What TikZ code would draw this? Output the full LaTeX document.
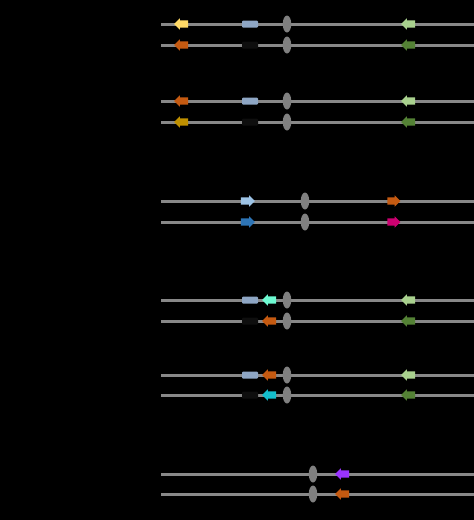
\documentclass[tikz,border=0pt]{standalone}
\usetikzlibrary{shapes.geometric,shapes.arrows,positioning}

\definecolor{trackgray}{RGB}{136,136,136}
\definecolor{sitegray}{RGB}{128,128,128}
\definecolor{tagblue}{RGB}{142,166,196}
\definecolor{tagdark}{RGB}{14,14,14}
\definecolor{ltyellow}{RGB}{255,217,102}
\definecolor{dkorange}{RGB}{197,90,17}
\definecolor{dkyellow}{RGB}{191,144,0}
\definecolor{ltgreen}{RGB}{169,209,142}
\definecolor{dkgreen}{RGB}{84,130,53}
\definecolor{ltblue}{RGB}{157,195,230}
\definecolor{dkblue}{RGB}{46,117,182}
\definecolor{magenta}{RGB}{204,0,112}
\definecolor{aqua}{RGB}{110,250,210}
\definecolor{cyanish}{RGB}{20,190,205}
\definecolor{violet}{RGB}{153,51,255}

\begin{document}
\begin{tikzpicture}[x=1pt,y=-1pt,
	track/.style = {draw=trackgray, line width=3pt},
	site/.style  = {ellipse, fill=sitegray, inner sep=0pt, minimum width=8.5pt, minimum height=17pt},
	tag/.style   = {rectangle, rounded corners=1pt, inner sep=0pt, minimum width=16pt, minimum height=7pt},
	gene/.style  = {single arrow, inner xsep=0pt, inner ysep=3.5pt, single arrow head extend=2pt, minimum height=14pt},
	rev/.style   = {gene, shape border rotate=180},
	fwd/.style   = {gene}]

	% background and page size
	\fill[black] (0,0) rectangle (474,520);
	\useasboundingbox (0,0) rectangle (474,520);

	% the twelve tracks
	\foreach \y/\n in {24/1,45/2,101/3,122/4,201/5,222/6,300/7,321/8,375/9,395/10,474/11,494/12}
	\draw[track] (161,\y) coordinate (s\n) -- (474,\y) coordinate (e\n);

	% group 1, tracks 1 and 2
	\node[rev, fill=ltyellow] (g1a) at (183,24) {};
	\node[tag, fill=tagblue] (t1) at (250,24) {};
	\node[site] (c1) at (287,24) {};
	\node[rev, fill=ltgreen] (g1b) at (410,24) {};

	\node[rev, fill=dkorange] (g2a) at (183,45) {};
	\node[tag, fill=tagdark] (t2) at (250,45) {};
	\node[site] (c2) at (287,45) {};
	\node[rev, fill=dkgreen] (g2b) at (410,45) {};

	% group 2, tracks 3 and 4
	\node[rev, fill=dkorange] (g3a) at (183,101) {};
	\node[tag, fill=tagblue] (t3) at (250,101) {};
	\node[site] (c3) at (287,101) {};
	\node[rev, fill=ltgreen] (g3b) at (410,101) {};

	\node[rev, fill=dkyellow] (g4a) at (183,122) {};
	\node[tag, fill=tagdark] (t4) at (250,122) {};
	\node[site] (c4) at (287,122) {};
	\node[rev, fill=dkgreen] (g4b) at (410,122) {};

	% group 3, tracks 5 and 6
	\node[fwd, fill=ltblue] (g5a) at (246,201) {};
	\node[site] (c5) at (305,201) {};
	\node[fwd, fill=dkorange, minimum height=13pt] (g5b) at (392,201) {};

	\node[fwd, fill=dkblue] (g6a) at (246,222) {};
	\node[site] (c6) at (305,222) {};
	\node[fwd, fill=magenta, minimum height=13pt] (g6b) at (392,222) {};

	% group 4, tracks 7 and 8
	\node[tag, fill=tagblue] (t7) at (250,300) {};
	\node[rev, fill=aqua] (g7a) at (271,300) {};
	\node[site] (c7) at (287,300) {};
	\node[rev, fill=ltgreen] (g7b) at (410,300) {};

	\node[tag, fill=tagdark] (t8) at (250,321) {};
	\node[rev, fill=dkorange] (g8a) at (271,321) {};
	\node[site] (c8) at (287,321) {};
	\node[rev, fill=dkgreen] (g8b) at (410,321) {};

	% group 5, tracks 9 and 10
	\node[tag, fill=tagblue] (t9) at (250,375) {};
	\node[rev, fill=dkorange] (g9a) at (271,375) {};
	\node[site] (c9) at (287,375) {};
	\node[rev, fill=ltgreen] (g9b) at (410,375) {};

	\node[tag, fill=tagdark] (t10) at (250,395) {};
	\node[rev, fill=cyanish] (g10a) at (271,395) {};
	\node[site] (c10) at (287,395) {};
	\node[rev, fill=dkgreen] (g10b) at (410,395) {};

	% group 6, tracks 11 and 12
	\node[site] (c11) at (313,474) {};
	\node[rev, fill=violet] (g11a) at (344,474) {};

	\node[site] (c12) at (313,494) {};
	\node[rev, fill=dkorange] (g12a) at (344,494) {};

\end{tikzpicture}
\end{document}
